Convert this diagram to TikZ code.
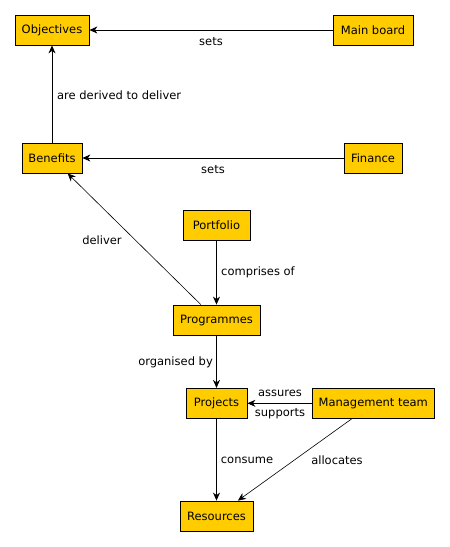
\documentclass[tikz,border=0pt]{standalone}
\usepackage{fontspec}
\setmainfont{DejaVu Sans}
\usetikzlibrary{arrows.meta}
\definecolor{boxfill}{HTML}{FFCC00}
\begin{document}
\begin{tikzpicture}[x=1pt,y=-1pt,
  box/.style={draw=black,line width=0.8pt,fill=boxfill,minimum height=30pt,inner sep=0pt,font=\fontsize{11.5}{13}\selectfont},
  lbl/.style={inner sep=0pt,font=\fontsize{11.5}{13}\selectfont},
  conn/.style={draw=black,line width=0.8pt,-{Stealth[length=8pt,width=7pt,inset=2.5pt]}}]
\useasboundingbox (0,0) rectangle (450,547);
\node[box,minimum width=74pt] (obj) at (52,30) {Objectives};
\node[box,minimum width=80pt] (mb) at (373,30) {Main board};
\node[box,minimum width=60pt] (ben) at (52,158) {Benefits};
\node[box,minimum width=58pt] (fin) at (373,158) {Finance};
\node[box,minimum width=67pt] (port) at (216.5,225) {Portfolio};
\node[box,minimum width=87pt] (prog) at (216.5,320) {Programmes};
\node[box,minimum width=61pt] (proj) at (216.5,403.3) {Projects};
\node[box,minimum width=122pt] (mt) at (373.3,403.3) {Management team};
\node[box,minimum width=73pt] (res) at (216.5,516) {Resources};

\draw[conn] (mb) -- (obj);
\draw[conn] (ben) -- (obj);
\draw[conn] (fin) -- (ben);
\draw[conn,line width=0.6pt] (prog) -- (ben);
\draw[conn] (port) -- (prog);
\draw[conn] (prog) -- (proj);
\draw[conn] (mt) -- (proj);
\draw[conn] (proj) -- (res);
\draw[conn,line width=0.6pt] (mt) -- (res);

\node[lbl] (l1) at (211,42) {sets};
\node[lbl,anchor=west] (l2) at (57,95) {are derived to deliver};
\node[lbl] (l3) at (213,170) {sets};
\node[lbl] (l4) at (102,240) {deliver};
\node[lbl,anchor=west] (l5) at (221,272) {comprises of};
\node[lbl,anchor=east] (l6) at (213,362) {organised by};
\node[lbl] (l7) at (280,393) {assures};
\node[lbl] (l8) at (280,414) {supports};
\node[lbl] (l9) at (247,460) {consume};
\node[lbl] (l10) at (337,460) {allocates};
\end{tikzpicture}
\end{document}
